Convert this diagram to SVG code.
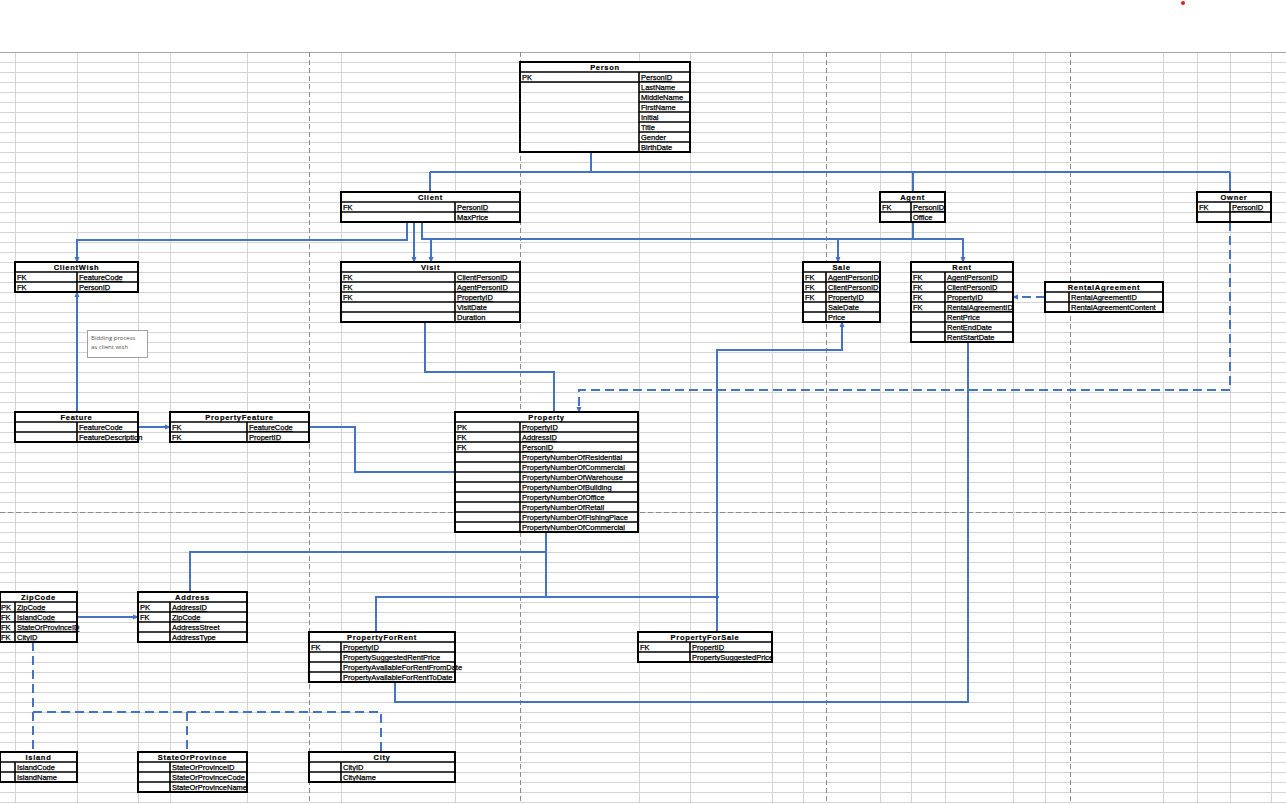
<svg xmlns="http://www.w3.org/2000/svg" width="1286" height="803" viewBox="0 0 1286 803">
<style>
.bg{fill:#fff}
.gv{stroke:#d4d4d4;stroke-width:1;fill:none}
.pb{stroke:#8a8a8a;stroke-width:1;stroke-dasharray:5 3;fill:none}
.tb{fill:#fff;stroke:#000;stroke-width:2}
.tn{fill:none;stroke:#000;stroke-width:2}
.ln{stroke:#000;stroke-width:1.6;fill:none}
.h{font-family:"Liberation Sans",Arial,sans-serif;font-size:7.5px;font-weight:bold;letter-spacing:0.7px;text-anchor:middle;fill:#000;stroke:#000;stroke-width:0.2}
.f{font-family:"Liberation Sans",Arial,sans-serif;font-size:7.5px;fill:#000;stroke:#000;stroke-width:0.25}
.u{text-decoration:underline}
.c{fill:none;stroke:#4472C4;stroke-width:2}
.d{stroke-dasharray:9 5}
.note{font-family:"Open Sans","Liberation Sans",sans-serif;font-size:6px;fill:#555}
</style>
<defs>
<pattern id="rows" x="0" y="52" width="1286" height="10" patternUnits="userSpaceOnUse">
<rect x="0" y="0" width="1286" height="1" fill="#d4d4d4"/>
</pattern>
<marker id="a" markerWidth="6" markerHeight="6" refX="5" refY="3" orient="auto" markerUnits="userSpaceOnUse">
<path d="M0,0.5 L6,3 L0,5.5 z" fill="#4472C4"/>
</marker>
</defs>
<rect class="bg" x="0" y="0" width="1286" height="803"/>
<g id="grid">
<rect x="0" y="52" width="1286" height="751" fill="url(#rows)"/>
<path class="gv" d="M15.5,52V803M77.5,52V803M138.5,52V803M170.5,52V803M247.5,52V803M341.5,52V803M455.5,52V803M639.5,52V803M690.5,52V803M772.5,52V803M803.5,52V803M880.5,52V803M911.5,52V803M945.5,52V803M1013.5,52V803M1045.5,52V803M1163.5,52V803M1197.5,52V803M1230.5,52V803M1271.5,52V803"/>
<line x1="0" y1="52.5" x2="1286" y2="52.5" stroke="#a6a6a6" stroke-width="1"/>
<path class="pb" d="M309.5,52V803M520.5,52V803M826.5,52V803M1070.5,52V803M0,512.5H1286"/>
<circle cx="1183" cy="3" r="2" fill="#e02020"/>
</g>
<g id="connectors">
<path class="c" d="M591,152V172M430,172H1230M430,172V192M913,172V192M1230,172V192"/>
<path class="c" d="M407,222V240H77V262" marker-end="url(#a)"/>
<path class="c" d="M414,222V262" marker-end="url(#a)"/>
<path class="c" d="M422,222V239H963V262" marker-end="url(#a)"/>
<path class="c" d="M838,239V262" marker-end="url(#a)"/>
<path class="c" d="M913,222V239"/>
<path class="c" d="M431,239V262" marker-end="url(#a)"/>
<path class="c" d="M425,322V372H554V412"/>
<path class="c d" d="M1230,222V390H579V412" marker-end="url(#a)"/>
<path class="c" d="M717,632V350H842V322" marker-end="url(#a)"/>
<path class="c" d="M546,532V597H376V632M546,597H719M546,552H190V592"/>
<path class="c" d="M968,342V702H395V682"/>
<path class="c d" d="M1045,297H1013" marker-end="url(#a)"/>
<path class="c" d="M77,412V292" marker-end="url(#a)"/>
<path class="c" d="M138,427H170" marker-end="url(#a)"/>
<path class="c" d="M309,427H355V472H455"/>
<path class="c" d="M77,617H138" marker-end="url(#a)"/>
<path class="c d" d="M33,642V752M33,712H381V752M187,712V752"/>
</g>
<g id="note">
<rect x="87.5" y="330.5" width="60" height="27" fill="#fff" stroke="#a0a0a0" stroke-width="1"/>
<text class="note" x="91" y="340">Bidding process</text>
<text class="note" x="91" y="349">as client wish</text>
</g>
<g id="person">
<rect x="520" y="62" width="170" height="20" fill="#fff"/>
<rect x="639" y="82" width="51" height="70" fill="#fff"/>
<rect class="tn" x="520" y="62" width="170" height="90"/>
<path class="ln" d="M520,72H690M520,82H690M639,72V152M639,92H690M639,102H690M639,112H690M639,122H690M639,132H690M639,142H690"/>
<text class="h" x="605" y="70">Person</text>
<text class="f" x="522" y="80">PK</text>
<text class="f u" x="641" y="80">PersonID</text>
<text class="f" x="641" y="90">LastName</text>
<text class="f" x="641" y="100">MiddleName</text>
<text class="f" x="641" y="110">FirstName</text>
<text class="f" x="641" y="120">Initial</text>
<text class="f" x="641" y="130">Title</text>
<text class="f" x="641" y="140">Gender</text>
<text class="f" x="641" y="150">BirthDate</text>
</g>
<g id="client">
<rect class="tb" x="341" y="192" width="179" height="30"/>
<path class="ln" d="M341,202H520M341,212H520M455,202V222"/>
<text class="h" x="430.5" y="200">Client</text>
<text class="f" x="343" y="210">FK</text>
<text class="f u" x="457" y="210">PersonID</text>
<text class="f" x="457" y="220">MaxPrice</text>
</g>
<g id="agent">
<rect class="tb" x="880" y="192" width="65" height="30"/>
<path class="ln" d="M880,202H945M880,212H945M911,202V222"/>
<text class="h" x="912.5" y="200">Agent</text>
<text class="f" x="882" y="210">FK</text>
<text class="f u" x="913" y="210">PersonID</text>
<text class="f" x="913" y="220">Office</text>
</g>
<g id="owner">
<rect class="tb" x="1197" y="192" width="74" height="30"/>
<path class="ln" d="M1197,202H1271M1197,212H1271M1230,202V222"/>
<text class="h" x="1234" y="200">Owner</text>
<text class="f" x="1199" y="210">FK</text>
<text class="f u" x="1232" y="210">PersonID</text>
</g>
<g id="clientwish">
<rect class="tb" x="15" y="262" width="123" height="30"/>
<path class="ln" d="M15,272H138M15,282H138M77,272V292"/>
<text class="h" x="76.5" y="270">ClientWish</text>
<text class="f" x="17" y="280">FK</text>
<text class="f u" x="79" y="280">FeatureCode</text>
<text class="f" x="17" y="290">FK</text>
<text class="f u" x="79" y="290">PersonID</text>
</g>
<g id="visit">
<rect class="tb" x="341" y="262" width="179" height="60"/>
<path class="ln" d="M341,272H520M341,282H520M341,292H520M341,302H520M341,312H520M455,272V322"/>
<text class="h" x="430.5" y="270">Visit</text>
<text class="f" x="343" y="280">FK</text>
<text class="f u" x="457" y="280">ClientPersonID</text>
<text class="f" x="343" y="290">FK</text>
<text class="f u" x="457" y="290">AgentPersonID</text>
<text class="f" x="343" y="300">FK</text>
<text class="f u" x="457" y="300">PropertyID</text>
<text class="f" x="457" y="310">VisitDate</text>
<text class="f" x="457" y="320">Duration</text>
</g>
<g id="sale">
<rect class="tb" x="803" y="262" width="77" height="60"/>
<path class="ln" d="M803,272H880M803,282H880M803,292H880M803,302H880M803,312H880M826,272V322"/>
<text class="h" x="841.5" y="270">Sale</text>
<text class="f" x="805" y="280">FK</text>
<text class="f u" x="828" y="280">AgentPersonID</text>
<text class="f" x="805" y="290">FK</text>
<text class="f u" x="828" y="290">ClientPersonID</text>
<text class="f" x="805" y="300">FK</text>
<text class="f u" x="828" y="300">PropertyID</text>
<text class="f" x="828" y="310">SaleDate</text>
<text class="f" x="828" y="320">Price</text>
</g>
<g id="rent">
<rect class="tb" x="911" y="262" width="102" height="80"/>
<path class="ln" d="M911,272H1013M911,282H1013M911,292H1013M911,302H1013M911,312H1013M911,322H1013M911,332H1013M945,272V342"/>
<text class="h" x="962" y="270">Rent</text>
<text class="f" x="913" y="280">FK</text>
<text class="f u" x="947" y="280">AgentPersonID</text>
<text class="f" x="913" y="290">FK</text>
<text class="f u" x="947" y="290">ClientPersonID</text>
<text class="f" x="913" y="300">FK</text>
<text class="f u" x="947" y="300">PropertyID</text>
<text class="f" x="913" y="310">FK</text>
<text class="f u" x="947" y="310">RentalAgreementID</text>
<text class="f" x="947" y="320">RentPrice</text>
<text class="f" x="947" y="330">RentEndDate</text>
<text class="f" x="947" y="340">RentStartDate</text>
</g>
<g id="rentalagreement">
<rect class="tb" x="1045" y="282" width="118" height="30"/>
<path class="ln" d="M1045,292H1163M1045,302H1163M1069,292V312"/>
<text class="h" x="1104" y="290">RentalAgreement</text>
<text class="f" x="1071" y="300">RentalAgreementID</text>
<text class="f" x="1071" y="310">RentalAgreementContent</text>
</g>
<g id="feature">
<rect class="tb" x="15" y="412" width="123" height="30"/>
<path class="ln" d="M15,422H138M15,432H138M77,422V442"/>
<text class="h" x="76.5" y="420">Feature</text>
<text class="f" x="79" y="430">FeatureCode</text>
<text class="f" x="79" y="440">FeatureDescription</text>
</g>
<g id="propertyfeature">
<rect class="tb" x="170" y="412" width="139" height="30"/>
<path class="ln" d="M170,422H309M170,432H309M247,422V442"/>
<text class="h" x="239.5" y="420">PropertyFeature</text>
<text class="f" x="172" y="430">FK</text>
<text class="f u" x="249" y="430">FeatureCode</text>
<text class="f" x="172" y="440">FK</text>
<text class="f u" x="249" y="440">PropertID</text>
</g>
<g id="property">
<rect class="tb" x="455" y="412" width="183" height="120"/>
<path class="ln" d="M455,422H638M455,432H638M455,442H638M455,452H638M455,462H638M455,472H638M455,482H638M455,492H638M455,502H638M455,512H638M455,522H638M520,422V532"/>
<text class="h" x="546.5" y="420">Property</text>
<text class="f" x="457" y="430">PK</text>
<text class="f u" x="522" y="430">PropertyID</text>
<text class="f" x="457" y="440">FK</text>
<text class="f u" x="522" y="440">AddressID</text>
<text class="f" x="457" y="450">FK</text>
<text class="f u" x="522" y="450">PersonID</text>
<text class="f" x="522" y="460">PropertyNumberOfResidential</text>
<text class="f" x="522" y="470">PropertyNumberOfCommercial</text>
<text class="f" x="522" y="480">PropertyNumberOfWarehouse</text>
<text class="f" x="522" y="490">PropertyNumberOfBuilding</text>
<text class="f" x="522" y="500">PropertyNumberOfOffice</text>
<text class="f" x="522" y="510">PropertyNumberOfRetail</text>
<text class="f" x="522" y="520">PropertyNumberOfFishingPlace</text>
<text class="f" x="522" y="530">PropertyNumberOfCommercial</text>
</g>
<g id="zipcode">
<rect class="tb" x="0" y="592" width="77" height="50"/>
<path class="ln" d="M0,602H77M0,612H77M0,622H77M0,632H77M15,602V642"/>
<text class="h" x="38.5" y="600">ZipCode</text>
<text class="f" x="1" y="610">PK</text>
<text class="f u" x="17" y="610">ZipCode</text>
<text class="f" x="1" y="620">FK</text>
<text class="f u" x="17" y="620">IslandCode</text>
<text class="f" x="1" y="630">FK</text>
<text class="f u" x="17" y="630">StateOrProvinceID</text>
<text class="f" x="1" y="640">FK</text>
<text class="f u" x="17" y="640">CityID</text>
</g>
<g id="address">
<rect class="tb" x="138" y="592" width="109" height="50"/>
<path class="ln" d="M138,602H247M138,612H247M138,622H247M138,632H247M170,602V642"/>
<text class="h" x="192.5" y="600">Address</text>
<text class="f" x="140" y="610">PK</text>
<text class="f u" x="172" y="610">AddressID</text>
<text class="f" x="140" y="620">FK</text>
<text class="f u" x="172" y="620">ZipCode</text>
<text class="f" x="172" y="630">AddressStreet</text>
<text class="f" x="172" y="640">AddressType</text>
</g>
<g id="propertyforrent">
<rect class="tb" x="309" y="632" width="146" height="50"/>
<path class="ln" d="M309,642H455M309,652H455M309,662H455M309,672H455M341,642V682"/>
<text class="h" x="382" y="640">PropertyForRent</text>
<text class="f" x="311" y="650">FK</text>
<text class="f u" x="343" y="650">PropertyID</text>
<text class="f" x="343" y="660">PropertySuggestedRentPrice</text>
<text class="f" x="343" y="670">PropertyAvailableForRentFromDate</text>
<text class="f" x="343" y="680">PropertyAvailableForRentToDate</text>
</g>
<g id="propertyforsale">
<rect class="tb" x="638" y="632" width="134" height="30"/>
<path class="ln" d="M638,642H772M638,652H772M690,642V662"/>
<text class="h" x="705" y="640">PropertyForSale</text>
<text class="f" x="640" y="650">FK</text>
<text class="f u" x="692" y="650">PropertID</text>
<text class="f" x="692" y="660">PropertySuggestedPrice</text>
</g>
<g id="island">
<rect class="tb" x="0" y="752" width="77" height="30"/>
<path class="ln" d="M0,762H77M0,772H77M15,762V782"/>
<text class="h" x="38.5" y="760">Island</text>
<text class="f" x="17" y="770">IslandCode</text>
<text class="f" x="17" y="780">IslandName</text>
</g>
<g id="stateorprovince">
<rect class="tb" x="138" y="752" width="109" height="40"/>
<path class="ln" d="M138,762H247M138,772H247M138,782H247M170,762V792"/>
<text class="h" x="192.5" y="760">StateOrProvince</text>
<text class="f" x="172" y="770">StateOrProvinceID</text>
<text class="f" x="172" y="780">StateOrProvinceCode</text>
<text class="f" x="172" y="790">StateOrProvinceName</text>
</g>
<g id="city">
<rect class="tb" x="309" y="752" width="146" height="30"/>
<path class="ln" d="M309,762H455M309,772H455M341,762V782"/>
<text class="h" x="382" y="760">City</text>
<text class="f" x="343" y="770">CityID</text>
<text class="f" x="343" y="780">CityName</text>
</g>
</svg>
